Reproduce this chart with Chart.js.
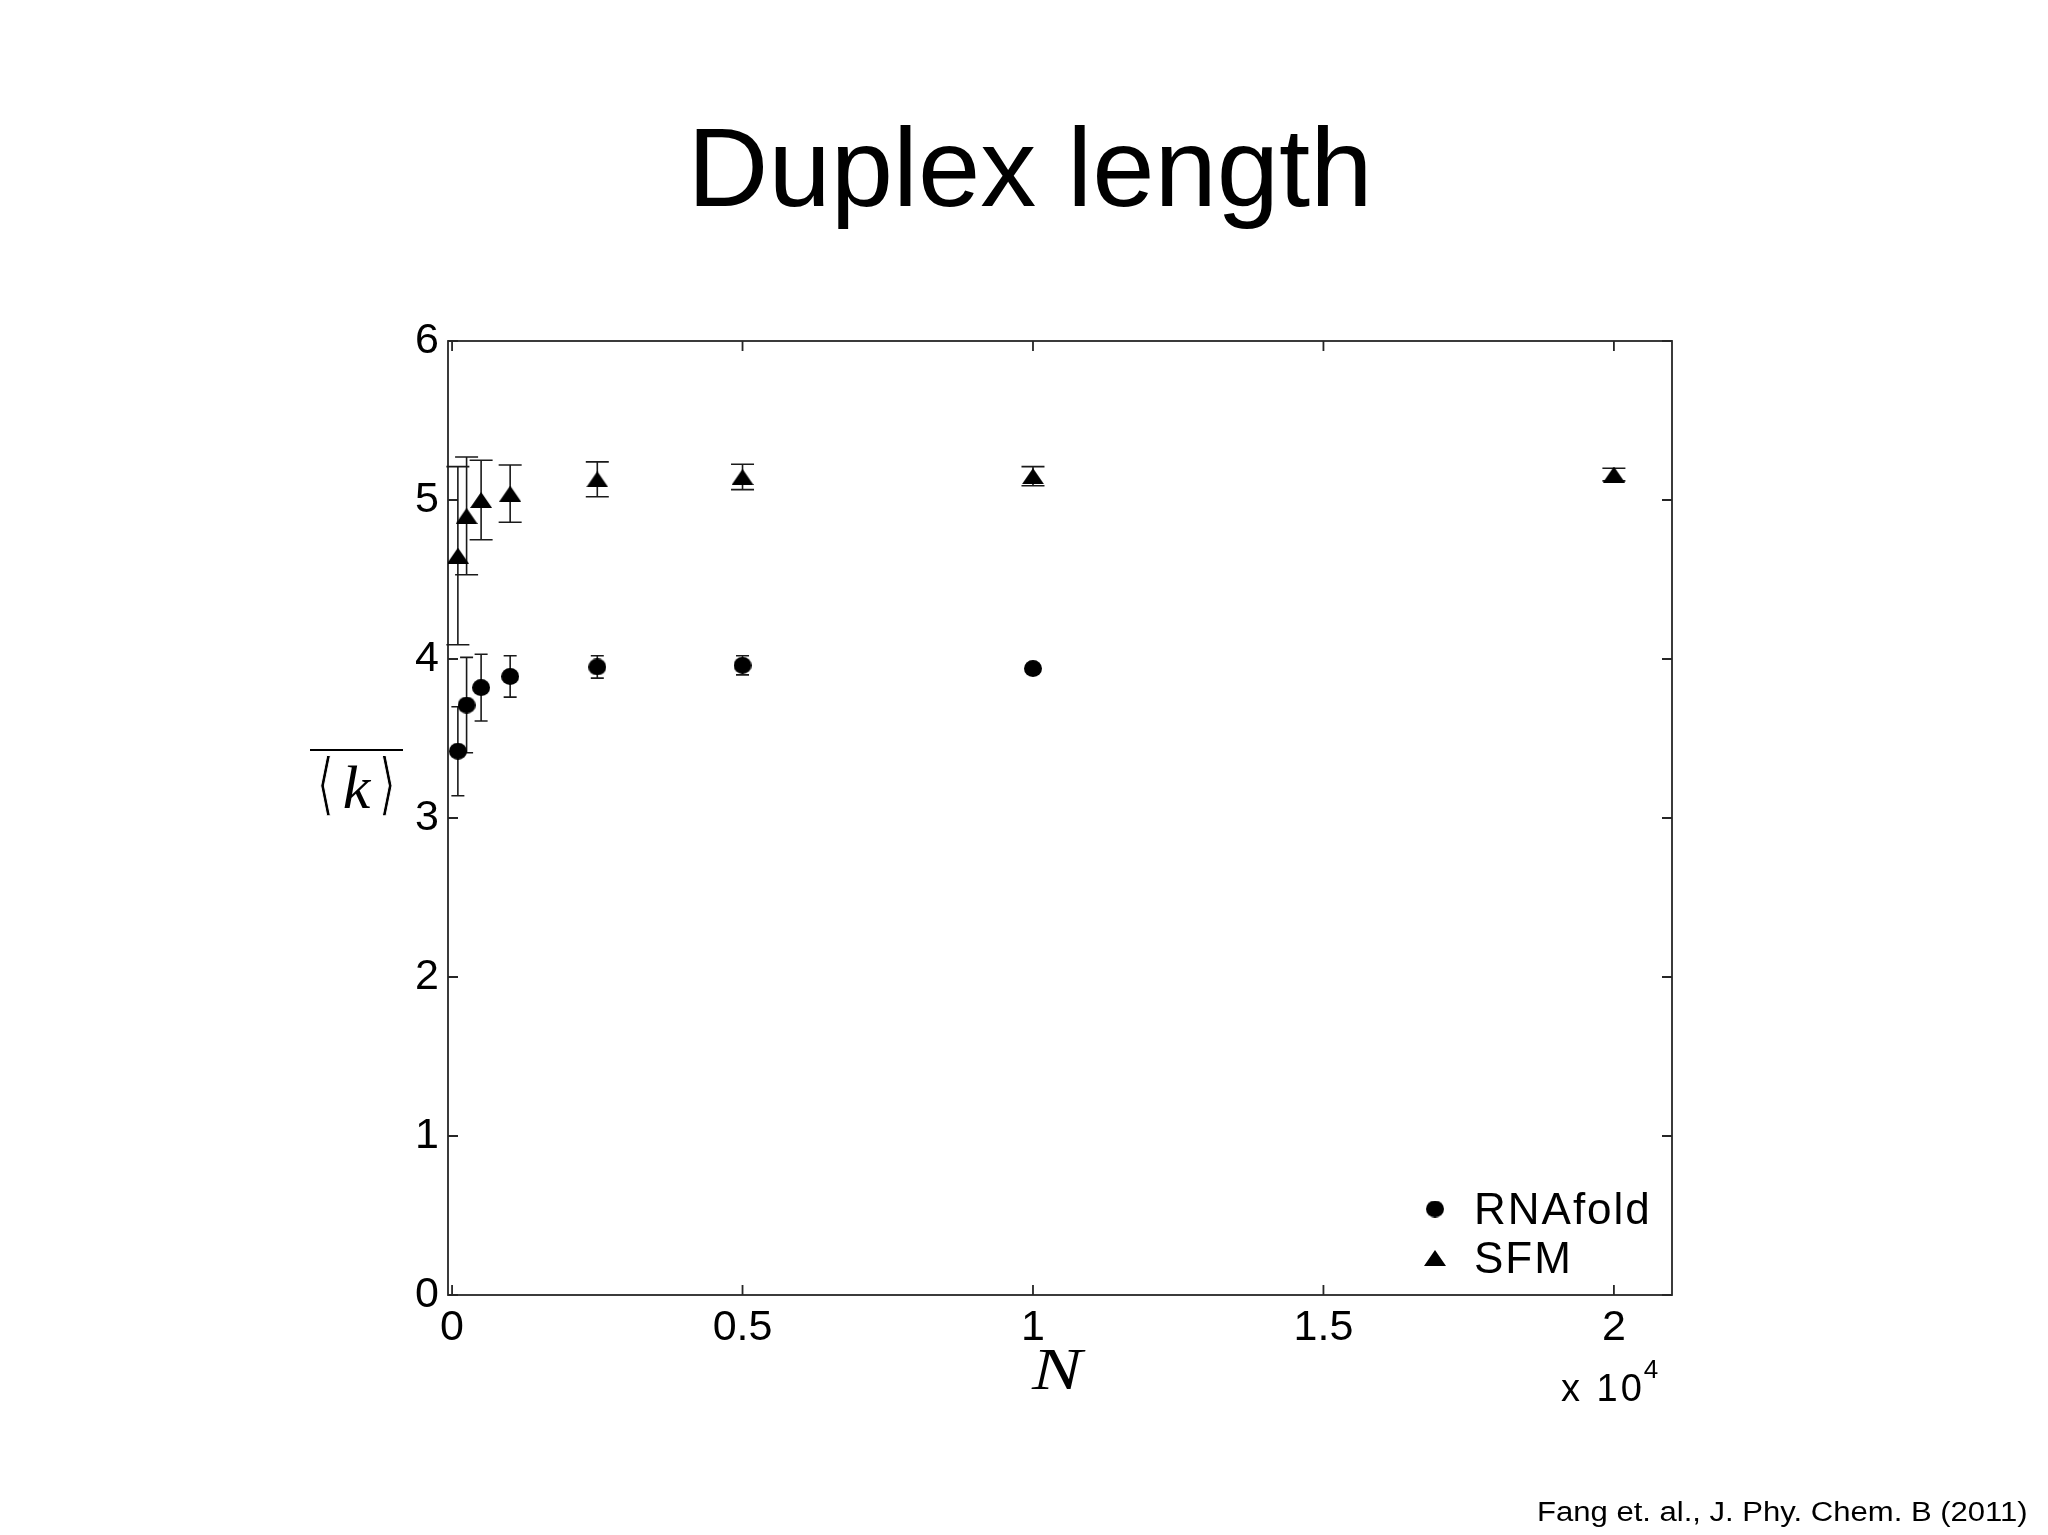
<!DOCTYPE html>
<html>
<head>
<meta charset="utf-8">
<title>Duplex length</title>
<script src="https://cdn.jsdelivr.net/npm/chart.js@4.4.1/dist/chart.umd.min.js"></script>
<style>
  body { margin: 0; background: #fff; }
  #wrap { position: relative; width: 2048px; height: 1535px; overflow: hidden; background: #fff; }
  #chart { position: absolute; left: 0; top: 0; }
  .txt { position: absolute; color: #000; white-space: nowrap; line-height: 1; }
  #title { left: 6px; top: 103px; width: 2048px; text-align: center; font: 112px "Liberation Sans", Arial, sans-serif; }
  #ylab { left: 310px; top: 749px; width: 93px; border-top: 2px solid #000; padding-top: 6px; text-align: center;
          font: 56px "DejaVu Serif", serif; line-height: 56px; }
  #ylab .kk { font-family: "Liberation Serif", serif; font-style: italic; font-size: 62px; margin: 0 4px; }
  #ylab .br { display: inline-block; font-family: "DejaVu Sans", sans-serif; font-size: 68px;
              position: relative; top: -1px; transform: scaleX(0.65); -webkit-text-stroke: 1.3px #fff; }
  #xlab { left: 957px; top: 1335px; width: 200px; text-align: center; font: italic 60px "Liberation Serif", serif;
          transform: scaleX(1.25); }
  #xexp { left: 1561px; top: 1367px; font: 38px "Liberation Sans", Arial, sans-serif; letter-spacing: 3px; }
  #xexp span { font-size: 26px; position: relative; top: -23px; margin-left: -1px; }
  #cite { right: 20px; top: 1497px; font: 27px "Liberation Sans", Arial, sans-serif; transform: scaleX(1.15); transform-origin: right center; }
</style>
</head>
<body>
<div id="wrap">
  <canvas id="chart" width="2048" height="1535"></canvas>
  <div id="title" class="txt">Duplex length</div>
  <div id="ylab" class="txt"><span class="br">⟨</span><span class="kk">k</span><span class="br">⟩</span></div>
  <div id="xlab" class="txt">N</div>
  <div id="xexp" class="txt">x 10<span>4</span></div>
  <div id="cite" class="txt">Fang et. al., J. Phy. Chem. B (2011)</div>
</div>
<script>
// sequence lengths N and mean duplex length with error bars
const sizes = [100, 250, 500, 1000, 2500, 5000, 10000, 20000];
const rnafoldMean = [3.42, 3.71, 3.82, 3.89, 3.95, 3.96, 3.94];
const rnafoldErr = [0.28, 0.30, 0.21, 0.13, 0.07, 0.06, 0.02];
const sfmMean = [4.65, 4.90, 5.00, 5.04, 5.13, 5.145, 5.15, 5.16];
const sfmErr = [0.56, 0.37, 0.25, 0.18, 0.11, 0.08, 0.06, 0.04];

const xTickValues = [0, 5000, 10000, 15000, 20000];
const xTickLabels = ['0', '0.5', '1', '1.5', '2'];

const TICK = 10;
const AXIS_COLOR = '#262626';

// marker images (slightly squashed like the matlab export)
function makeMarker(w, h, draw) {
    const c = document.createElement('canvas');
    c.width = w;
    c.height = h;
    const g = c.getContext('2d');
    g.fillStyle = '#000';
    draw(g, w, h);
    return c;
}
const dotMarker = makeMarker(18, 17, function (g, w, h) {
    g.beginPath();
    g.ellipse(w / 2, h / 2, w / 2, h / 2, 0, 0, Math.PI * 2);
    g.fill();
});
const triMarker = makeMarker(22, 16, function (g, w, h) {
    g.beginPath();
    g.moveTo(w / 2, 0);
    g.lineTo(w, h);
    g.lineTo(0, h);
    g.closePath();
    g.fill();
});

function toPoints(means) {
    return means.map((m, i) => ({ x: sizes[i], y: m }));
}

// box around the plot with inward ticks on all four sides
const frameTicks = {
    id: 'frameTicks',
    beforeDatasetsDraw(chart) {
        const { ctx, chartArea: a, scales: { x, y } } = chart;
        ctx.save();
        ctx.strokeStyle = AXIS_COLOR;
        ctx.lineWidth = 1.8;
        ctx.strokeRect(a.left, a.top, a.right - a.left, a.bottom - a.top);
        ctx.beginPath();
        x.ticks.forEach(t => {
            const px = x.getPixelForValue(t.value);
            ctx.moveTo(px, a.bottom); ctx.lineTo(px, a.bottom - TICK);
            ctx.moveTo(px, a.top); ctx.lineTo(px, a.top + TICK);
        });
        y.ticks.forEach(t => {
            const py = y.getPixelForValue(t.value);
            ctx.moveTo(a.left, py); ctx.lineTo(a.left + TICK, py);
            ctx.moveTo(a.right, py); ctx.lineTo(a.right - TICK, py);
        });
        ctx.stroke();
        ctx.restore();
    }
};

// vertical error bars with caps
const errorBars = {
    id: 'errorBars',
    beforeDatasetsDraw(chart) {
        const { ctx, scales: { x, y } } = chart;
        ctx.save();
        ctx.strokeStyle = '#1a1a1a';
        ctx.lineWidth = 1.6;
        chart.data.datasets.forEach(ds => {
            ds.data.forEach((p, i) => {
                const err = ds.errors[i];
                const px = x.getPixelForValue(p.x);
                const top = y.getPixelForValue(p.y + err);
                const bot = y.getPixelForValue(p.y - err);
                ctx.beginPath();
                ctx.moveTo(px, top); ctx.lineTo(px, bot);
                ctx.moveTo(px - ds.capHalf, top); ctx.lineTo(px + ds.capHalf, top);
                ctx.moveTo(px - ds.capHalf, bot); ctx.lineTo(px + ds.capHalf, bot);
                ctx.stroke();
            });
        });
        ctx.restore();
    }
};

// legend inside the lower right corner of the axes
const cornerLegend = {
    id: 'cornerLegend',
    afterDraw(chart) {
        const { ctx, chartArea: a } = chart;
        ctx.save();
        ctx.fillStyle = '#000';
        ctx.font = '44px "Liberation Sans", Arial, sans-serif';
        ctx.textBaseline = 'alphabetic';
        ctx.letterSpacing = '2px';
        chart.data.datasets.forEach((ds, i) => {
            const cy = a.bottom - 86 + i * 49;
            const m = ds.pointStyle;
            ctx.drawImage(m, a.right - 237 - m.width / 2, cy - m.height / 2);
            ctx.fillText(ds.label, a.right - 198, cy + 15);
        });
        ctx.restore();
    }
};

const ctx = document.getElementById('chart').getContext('2d');
const duplexChart = new Chart(ctx, {
    type: 'scatter',
    data: {
        datasets: [{
            label: 'RNAfold',
            data: toPoints(rnafoldMean),
            errors: rnafoldErr,
            capHalf: 6.5,
            pointStyle: dotMarker,
            pointRadius: 8,
            backgroundColor: '#000',
            borderColor: '#000'
        }, {
            label: 'SFM',
            data: toPoints(sfmMean),
            errors: sfmErr,
            capHalf: 11.5,
            pointStyle: triMarker,
            pointRadius: 8,
            backgroundColor: '#000',
            borderColor: '#000'
        }]
    },
    options: {
        responsive: false,
        animation: false,
        devicePixelRatio: 1,
        layout: { padding: { left: 348, top: 341, right: 376, bottom: 120 } },
        plugins: {
            legend: { display: false },
            tooltip: { enabled: false }
        },
        scales: {
            x: {
                type: 'linear',
                min: -70,
                max: 21000,
                grid: { display: false, drawTicks: false },
                border: { display: false },
                afterBuildTicks: s => { s.ticks = xTickValues.map(v => ({ value: v })); },
                afterFit: s => { s.height = 120; },
                ticks: {
                    padding: 7,
                    color: '#000',
                    font: { family: '"Liberation Sans", Arial, sans-serif', size: 43 },
                    callback: v => xTickLabels[xTickValues.indexOf(v)]
                }
            },
            y: {
                min: 0,
                max: 6,
                grid: { display: false, drawTicks: false },
                border: { display: false },
                afterFit: s => { s.width = 100; },
                ticks: {
                    stepSize: 1,
                    padding: 9,
                    color: '#000',
                    font: { family: '"Liberation Sans", Arial, sans-serif', size: 43 }
                }
            }
        }
    },
    plugins: [frameTicks, errorBars, cornerLegend]
});
</script>
</body>
</html>
